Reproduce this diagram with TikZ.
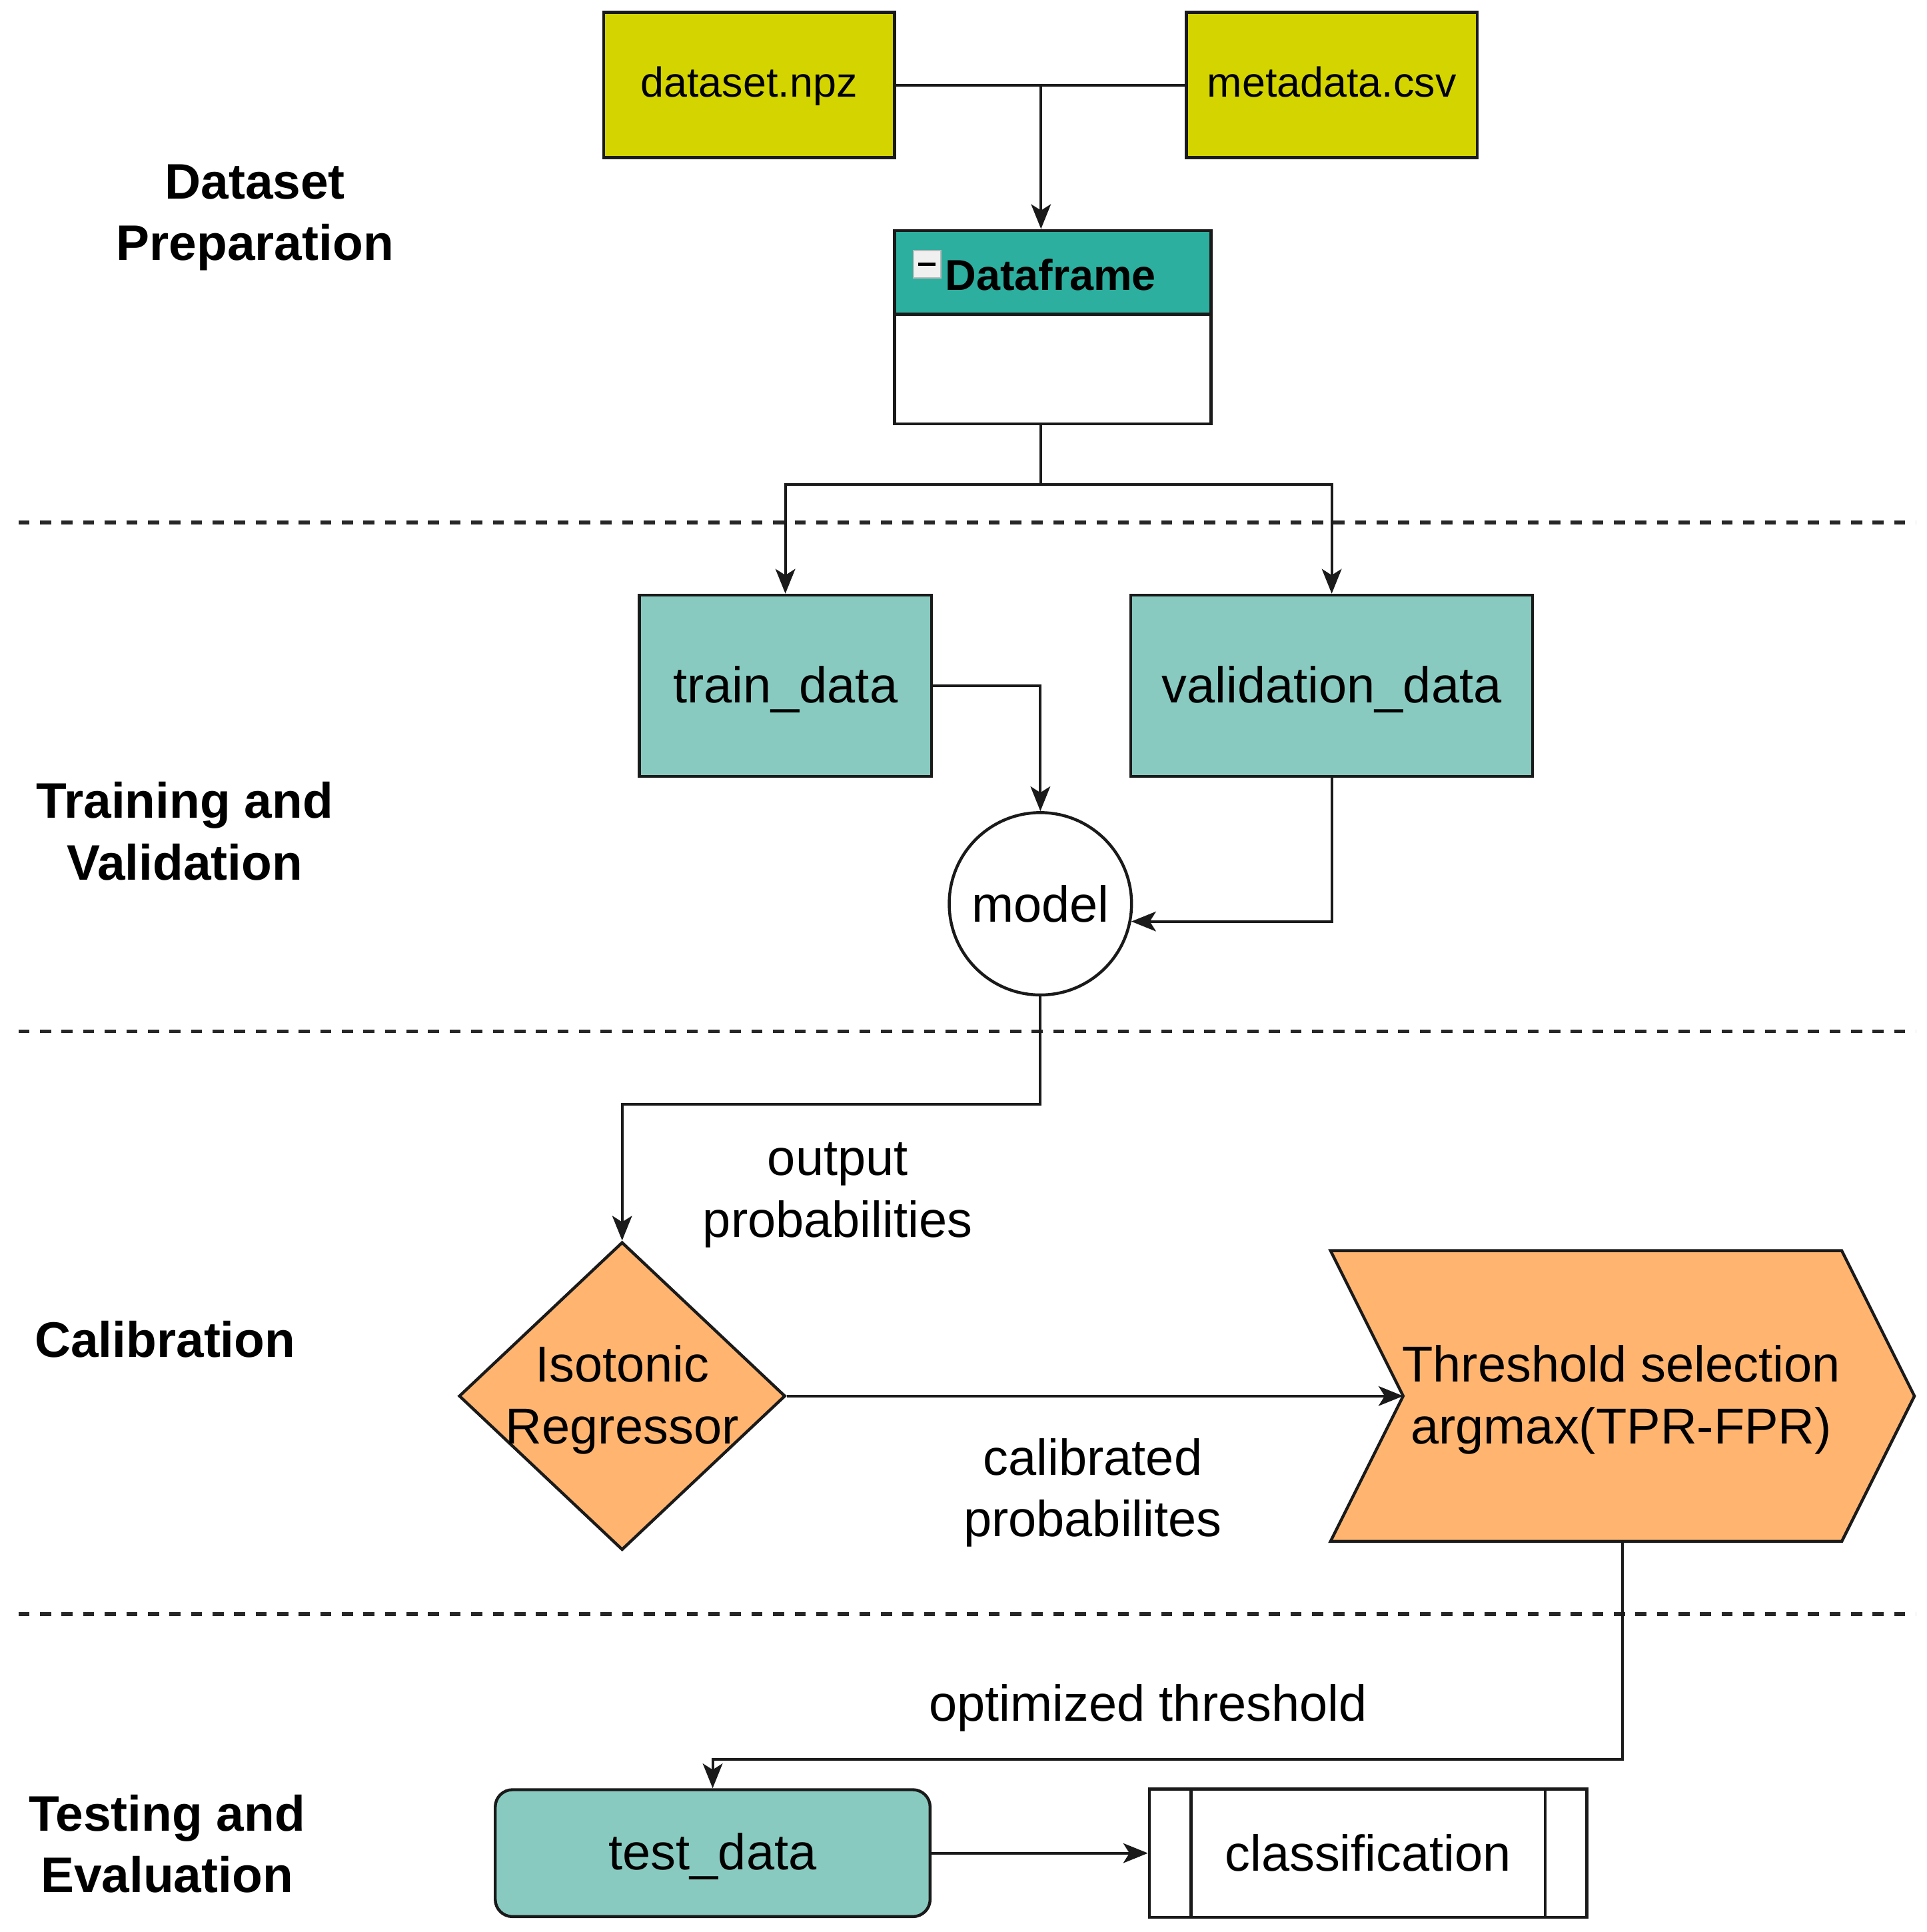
\documentclass[tikz,border=0pt]{standalone}
\usepackage{fontspec}
\setmainfont{Liberation Sans}
\usetikzlibrary{arrows.meta,shapes.geometric,calc}
\definecolor{yel}{HTML}{D4D400}
\definecolor{hdr}{HTML}{2DAF9F}
\definecolor{lteal}{HTML}{88CAC0}
\definecolor{orng}{HTML}{FFB570}
\definecolor{edge}{HTML}{1A1A1A}
\begin{document}
\begin{tikzpicture}[x=1pt,y=-1pt,
  font=\fontsize{41}{50}\selectfont,
  box/.style={draw=edge,line width=2.4pt,inner sep=0pt,align=center},
  ybox/.style={box,fill=yel,minimum width=236pt,minimum height=118pt,font=\fontsize{34}{40}\selectfont,text height=24.4pt,text depth=5pt},
  tbox/.style={box,fill=lteal,minimum height=147pt,text height=29.5pt,text depth=1.5pt},
  conn/.style={draw=edge,line width=2.2pt},
  arr/.style={conn,-{Stealth[length=20pt,width=16pt,inset=5pt]}},
  sect/.style={font=\bfseries\fontsize{40.5}{50}\selectfont,align=center},
  lbl/.style={align=center},
  sep/.style={draw=black!85,line width=2.8pt,dash pattern=on 9pt off 8.5pt}]

\fill[white] (0,0) rectangle (1564,1568);
\useasboundingbox (0,0) rectangle (1564,1568);

% separators
\draw[sep] (15,424) -- (1555,424);
\draw[sep] (15,837) -- (1555,837);
\draw[sep] (15,1310) -- (1555,1310);

% headings
\node[sect] (h1) at (207,176.5) {Dataset\\Preparation};
\node[sect] (h2) at (150,674.5) {Training and\\Validation};
\node[sect] (h3) at (134,1087) {Calibration};
\node[sect] (h4) at (135.5,1496.5) {Testing and\\Evaluation};

% dataset preparation
\node[ybox] (npz) at (608,69) {dataset.npz};
\node[ybox] (meta) at (1081,69) {metadata.csv};
\node[box,fill=white,minimum width=257pt,minimum height=157pt] (df) at (854.5,265.5) {};
\node[box,fill=hdr,minimum width=257pt,minimum height=68pt,anchor=north] (dfh) at (df.north) {};
\node[draw=gray!55,fill=gray!12,line width=1pt,minimum size=22pt,inner sep=0pt] (dfi) at (752.5,214.5) {};
\draw[line width=3pt] ($(dfi.center)+(-7,0)$) -- ($(dfi.center)+(7,0)$);
\node[anchor=west,inner sep=0pt,font=\bfseries\fontsize{35}{40}\selectfont] (dft) at (767,223) {Dataframe};

% training and validation
\node[tbox,minimum width=237pt] (train) at (637.5,556.5) {train\_data};
\node[tbox,minimum width=326pt] (val) at (1081,556.5) {validation\_data};
\node[circle,draw=edge,line width=2.4pt,fill=white,minimum size=148pt,inner sep=0pt] (model) at (844.5,733.5) {model};

% calibration
\node[diamond,draw=edge,line width=2.4pt,fill=orng,minimum width=265pt,minimum height=250pt,inner sep=0pt] (iso) at (505,1133) {};
\node[lbl] (isot) at (505,1136) {Isotonic\\Regressor};
\filldraw[fill=orng,draw=edge,line width=2.4pt] (1080,1015) -- (1495,1015) -- (1554,1133) -- (1495,1251) -- (1080,1251) -- (1139,1133) -- cycle;
\node[minimum width=474pt,minimum height=236pt,inner sep=0pt] (thr) at (1317,1133) {};
\coordinate (thin) at (1139,1133);
\node[lbl] (thrt) at (1316,1136) {Threshold selection\\argmax(TPR-FPR)};

% testing
\node[box,fill=lteal,rounded corners=14pt,minimum width=353pt,minimum height=103pt,text height=29.5pt,text depth=2.5pt] (test) at (578.5,1504) {test\_data};
\node[box,fill=white,minimum width=355pt,minimum height=104pt] (cls) at (1110.5,1504) {classification};
\draw[line width=2.4pt,edge] ([xshift=35pt]cls.north west) -- ([xshift=35pt]cls.south west);
\draw[line width=2.4pt,edge] ([xshift=-35pt]cls.north east) -- ([xshift=-35pt]cls.south east);

% labels
\node[lbl] (lo) at (680,970) {output\\probabilities};
\node[lbl] (lc) at (887,1211.5) {calibrated\\probabilites};
\node (lt) at (932,1386) {optimized threshold};

% connectors
\coordinate (j1) at (845,69);
\draw[conn] (npz.east) -- (meta.west);
\draw[arr] (j1) -- (j1 |- df.north);
\coordinate (j2) at (845,393);
\draw[conn] (j2 |- df.south) -- (j2);
\draw[arr] (j2) -| (train.north);
\draw[arr] (j2) -| (val.north);
\draw[arr] (train.east) -| (model.north);
\draw[arr] (val.south) |- (model.-11.7);
\coordinate (j3) at (844.5,896);
\draw[arr] (model.south) -- (j3) -| (iso.north);
\draw[arr] (iso.east) -- (thin);
\coordinate (j4) at (1317,1428);
\draw[arr] (thr.south) -- (j4) -| (test.north);
\draw[arr] (test.east) -- (cls.west);
\end{tikzpicture}
\end{document}
